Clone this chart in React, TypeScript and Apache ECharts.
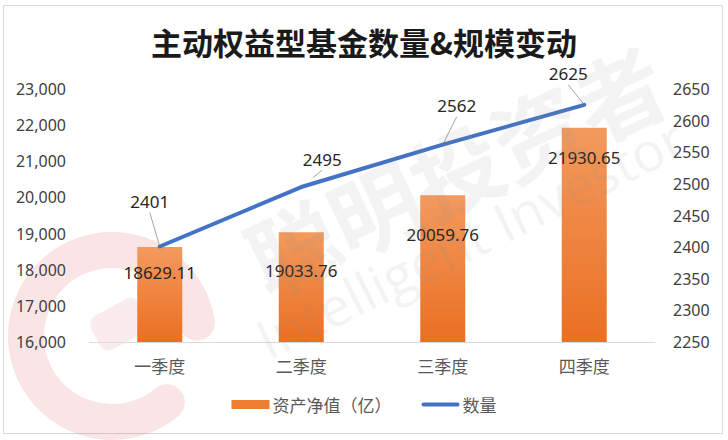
import React, { useEffect, useRef } from 'react';
import * as echarts from 'echarts';

const title = '主动权益型基金数量&规模变动';
const categories = ['一季度', '二季度', '三季度', '四季度'];
const netAssets = [18629.11, 19033.76, 20059.76, 21930.65];
const fundCounts = [2401, 2495, 2562, 2625];
const barName = '资产净值（亿）';
const lineName = '数量';
const leftAxisRange = [16000, 23000, 1000];
const rightAxisRange = [2250, 2650, 50];

// label placement tweaks (style, not data)
const barLabelDy = [12, 25, 26, 16];
const lineLabelShift = [
  [-10, -30],
  [21, -13],
  [14, -24],
  [-16, -16],
];
// fraction of the leader line drawn towards the point
const leaderReach = [0.95, 0.45, 0.95, 0.95];

const numFont = "'Noto Sans', 'Noto Sans CJK SC', sans-serif";
const cjkFont = "'Noto Sans CJK SC', 'Noto Sans', sans-serif";

function addCommas(v: number): string {
  return String(v).replace(/\B(?=(\d{3})+(?!\d))/g, ',');
}

export default function App() {
  const ref = useRef<HTMLDivElement>(null);
  useEffect(() => {
    if (!ref.current) return;
    const chart = echarts.init(ref.current, null, { renderer: 'svg' });
    const baseGraphics: any[] = [
      {
        id: 'frame',
        type: 'rect',
        shape: { x: 3.5, y: 5.5, width: 719, height: 428 },
        style: { fill: 'none', stroke: '#d9d9d9', lineWidth: 1 },
        z: -20,
      },
      {
        id: 'logoArc',
        type: 'arc',
        shape: { cx: 112, cy: 336, r: 86, startAngle: Math.PI * 0.28, endAngle: Math.PI * 1.95 },
        style: { stroke: 'rgba(205,40,40,0.12)', lineWidth: 36, fill: 'none', lineCap: 'round' },
        z: -10,
      },
      {
        id: 'logoRect',
        type: 'rect',
        x: 118,
        y: 326,
        rotation: 0.5,
        originX: 0,
        originY: 0,
        shape: { x: -25, y: -20, width: 55, height: 38, r: 10 },
        style: { fill: 'rgba(205,40,40,0.09)' },
        z: -10,
      },
      {
        id: 'wmCn',
        type: 'text',
        x: 455,
        y: 168,
        rotation: 0.44,
        originX: 0,
        originY: 0,
        style: {
          text: '聪明投资者',
          fontFamily: cjkFont,
          fontSize: 90,
          fontWeight: 'bold',
          fill: 'rgba(150,150,150,0.11)',
          align: 'center',
          verticalAlign: 'middle',
        },
        z: 50,
      },
      {
        id: 'wmEn',
        type: 'text',
        x: 470,
        y: 238,
        rotation: 0.46,
        originX: 0,
        originY: 0,
        style: {
          text: 'Intelligent Investor',
          fontFamily: "'Open Sans', sans-serif",
          fontSize: 54,
          fill: 'rgba(150,150,150,0.11)',
          align: 'center',
          verticalAlign: 'middle',
        },
        z: 50,
      },
    ];
    chart.setOption({
      animation: false,
      backgroundColor: '#ffffff',
      title: {
        text: title,
        left: 'center',
        top: 21,
        padding: [5, 5, 2, 5],
        textStyle: { fontFamily: cjkFont, fontSize: 31, fontWeight: 'bold', color: '#1a1a1a', lineHeight: 30 },
      },
      graphic: baseGraphics,
      legend: {
        bottom: 22,
        left: 'center',
        itemWidth: 38,
        itemHeight: 9,
        itemGap: 30,
        textStyle: { fontFamily: cjkFont, fontSize: 17, color: '#595959', padding: [0, 0, 0, -2] },
        data: [
          { name: barName, icon: 'rect', itemStyle: { color: '#ED7D31' } },
          { name: lineName, icon: 'path://M2,0 L38,0 A2,2 0 0 1 38,4 L2,4 A2,2 0 0 1 2,0 Z', itemStyle: { color: '#4472C4' } },
        ],
      },
      grid: { left: 89, right: 73, top: 89, bottom: 98, containLabel: false },
      xAxis: {
        type: 'category',
        data: categories,
        axisLine: { show: true, lineStyle: { color: '#d9d9d9', width: 1 } },
        axisTick: { show: false },
        axisLabel: { fontFamily: cjkFont, fontSize: 17, color: '#595959', margin: 15 },
      },
      yAxis: [
        {
          type: 'value',
          min: leftAxisRange[0],
          max: leftAxisRange[1],
          interval: leftAxisRange[2],
          splitLine: { show: false },
          axisLine: { show: false },
          axisTick: { show: false },
          axisLabel: {
            fontFamily: numFont,
            fontSize: 16,
            color: '#404040',
            margin: 23,
            formatter: (v: number) => addCommas(v),
          },
        },
        {
          type: 'value',
          min: rightAxisRange[0],
          max: rightAxisRange[1],
          interval: rightAxisRange[2],
          splitLine: { show: false },
          axisLine: { show: false },
          axisTick: { show: false },
          axisLabel: {
            fontFamily: numFont,
            fontSize: 16,
            color: '#404040',
            margin: 18,
            formatter: (v: number) => String(v),
          },
        },
      ],
      series: [
        {
          name: barName,
          type: 'bar',
          yAxisIndex: 0,
          barWidth: 45,
          itemStyle: {
            color: new echarts.graphic.LinearGradient(0, 0, 0, 1, [
              { offset: 0, color: '#F39A5E' },
              { offset: 1, color: '#EA6F22' },
            ]),
          },
          label: {
            show: true,
            position: 'insideTop',
            fontFamily: numFont,
            fontSize: 17,
            color: '#262626',
          },
          data: netAssets.map((v, i) => ({ value: v, label: { offset: [0, barLabelDy[i]] } })),
          z: 2,
        },
        {
          name: lineName,
          type: 'line',
          yAxisIndex: 1,
          symbol: 'circle',
          symbolSize: 2,
          itemStyle: { color: '#4472C4' },
          lineStyle: { color: '#4472C4', width: 4, cap: 'round' },
          label: {
            show: true,
            position: 'top',
            distance: 5,
            fontFamily: numFont,
            fontSize: 17,
            color: '#262626',
            lineHeight: 18,
          },
          labelLayout: (p: any) => ({
            dx: lineLabelShift[p.dataIndex][0],
            dy: lineLabelShift[p.dataIndex][1],
          }),
          data: fundCounts,
          z: 3,
        },
      ],
    });
    // leader lines from the line labels to their points, positioned with the chart's own scales
    const leaders = fundCounts.map((v, i) => {
      const pt = chart.convertToPixel({ seriesIndex: 1 }, [i, v]) as number[];
      const lx = pt[0] + lineLabelShift[i][0];
      const ly = pt[1] - 5 - 10 + lineLabelShift[i][1] + 11;
      const r = leaderReach[i];
      return {
        id: 'leader' + i,
        type: 'line',
        shape: { x1: lx, y1: ly, x2: lx + (pt[0] - lx) * r, y2: ly + (pt[1] - ly) * r },
        style: { stroke: '#a6a6a6', lineWidth: 1 },
        z: 1,
      };
    });
    chart.setOption({ graphic: [...baseGraphics, ...leaders] });
    return () => chart.dispose();
  }, []);
  return <div ref={ref} style={{ width: 728, height: 440, position: 'absolute', left: 0, top: 0 }} />;
}
